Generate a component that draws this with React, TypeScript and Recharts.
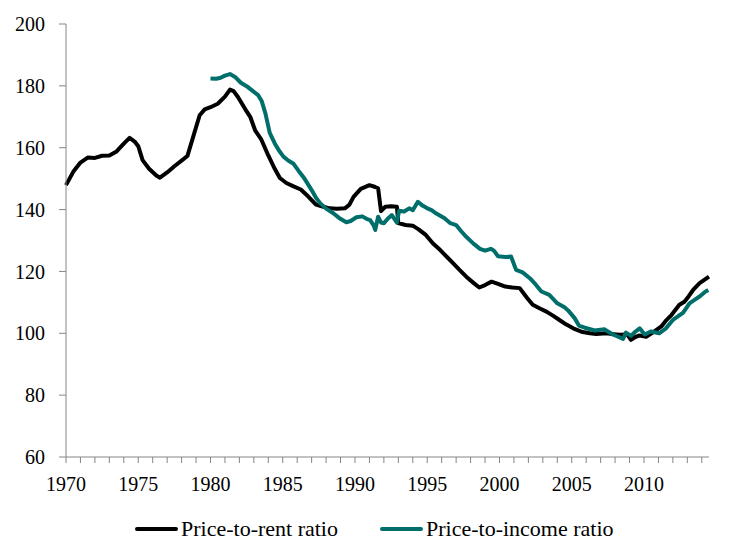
import { LineChart, Line, XAxis, YAxis } from 'recharts'

const rentYears = [
  1970.0, 1970.5, 1971.0, 1971.5, 1972.0, 1972.5, 1973.0, 1973.5, 1974.0, 1974.4, 1974.75, 1975.0,
  1975.3, 1975.75, 1976.25, 1976.5, 1977.0, 1977.5, 1978.0, 1978.4, 1978.8, 1979.25, 1979.6, 1980.0,
  1980.5, 1981.0, 1981.35, 1981.6, 1981.9, 1982.4, 1982.75, 1983.1, 1983.5, 1984.0, 1984.4, 1984.8,
  1985.25, 1985.75, 1986.25, 1986.75, 1987.3, 1987.75, 1988.25, 1988.75, 1989.3, 1989.6, 1989.9, 1990.4,
  1991.0, 1991.4, 1991.6, 1991.8, 1992.1, 1992.5, 1992.9, 1993.0, 1993.5, 1994.0, 1994.4, 1994.9,
  1995.4, 1995.9, 1996.4, 1996.8, 1997.25, 1997.7, 1998.2, 1998.6, 1999.0, 1999.45, 1999.9, 2000.4,
  2000.9, 2001.4, 2001.9, 2002.3, 2002.8, 2003.25, 2003.7, 2004.15, 2004.6, 2005.1, 2005.75, 2006.25,
  2006.7, 2007.4, 2007.9, 2008.3, 2008.85, 2009.1, 2009.4, 2009.7, 2010.15, 2010.6, 2011.2, 2011.5,
  2011.9, 2012.45, 2012.8, 2013.1, 2013.4, 2013.85, 2014.1, 2014.5,
]
const rentValues = [
  147.9, 152.2, 155.2, 156.8, 156.7, 157.4, 157.5, 158.8, 161.3, 163.2, 162.0, 160.5,
  156.0, 153.2, 151.0, 150.3, 152.0, 154.0, 155.8, 157.3, 163.5, 170.5, 172.4, 173.1,
  174.2, 176.5, 178.8, 178.3, 176.4, 172.5, 170.0, 165.5, 162.8, 157.5, 153.6, 150.2,
  148.6, 147.5, 146.5, 144.3, 141.6, 141.0, 140.4, 140.3, 140.4, 141.5, 144.1, 146.7,
  147.9, 147.3, 146.9, 139.5, 140.9, 141.1, 140.9, 135.6, 135.0, 134.8, 133.6, 131.8,
  129.0, 126.9, 124.5, 122.6, 120.4, 118.3, 116.3, 114.8, 115.6, 116.7, 116.0, 115.1,
  114.8, 114.6, 111.5, 109.2, 108.0, 107.0, 105.7, 104.3, 102.9, 101.6, 100.4, 100.0,
  99.8, 100.0, 99.7, 99.5, 99.6, 97.9, 98.8, 99.3, 98.9, 100.2, 102.2, 104.0,
  105.9, 109.2, 110.2, 112.0, 114.0, 116.2, 117.0, 118.3,
]

const incomeYears = [
  1980.0, 1980.4, 1980.7, 1981.0, 1981.35, 1981.7, 1982.1, 1982.5, 1982.85, 1983.3, 1983.55, 1983.8,
  1984.1, 1984.45, 1984.75, 1985.05, 1985.4, 1985.75, 1986.1, 1986.45, 1987.0, 1987.3, 1987.6, 1988.0,
  1988.5, 1988.9, 1989.4, 1989.7, 1990.1, 1990.5, 1990.8, 1991.05, 1991.3, 1991.4, 1991.6, 1991.8,
  1992.0, 1992.3, 1992.55, 1992.75, 1992.9, 1993.05, 1993.4, 1993.75, 1994.0, 1994.35, 1994.7, 1995.0,
  1995.3, 1995.6, 1996.2, 1996.6, 1997.0, 1997.35, 1997.7, 1998.2, 1998.65, 1999.0, 1999.4, 1999.6,
  1999.9, 2000.4, 2000.8, 2001.15, 2001.6, 2002.1, 2002.5, 2002.9, 2003.45, 2004.0, 2004.5, 2004.75,
  2005.2, 2005.5, 2005.9, 2006.6, 2007.25, 2007.85, 2008.25, 2008.55, 2008.75, 2009.1, 2009.4, 2009.7,
  2010.05, 2010.5, 2011.05, 2011.5, 2012.0, 2012.35, 2012.7, 2013.15, 2013.5, 2013.85, 2014.2, 2014.45,
]
const incomeValues = [
  182.4, 182.3, 182.6, 183.3, 183.8, 182.9, 181.0, 179.9, 178.6, 177.0, 175.0, 171.1,
  164.8, 161.4, 159.0, 157.1, 155.8, 154.8, 152.5, 150.4, 146.3, 143.8, 142.0, 140.3,
  138.8, 137.3, 135.9, 136.3, 137.5, 137.8, 137.0, 136.6, 134.8, 133.4, 137.7, 135.8,
  135.6, 137.2, 138.2, 136.8, 135.8, 139.6, 139.4, 140.4, 139.8, 142.5, 141.2, 140.4,
  139.8, 138.8, 137.2, 135.6, 135.0, 133.0, 131.2, 129.0, 127.3, 126.7, 127.3, 126.8,
  124.9, 124.7, 124.8, 120.5, 119.7, 117.8, 115.8, 113.5, 112.4, 109.7, 108.4, 107.4,
  104.9, 102.5, 101.8, 100.9, 101.3, 99.6, 98.8, 98.2, 100.2, 99.2, 100.5, 101.6,
  99.6, 100.6, 100.0, 101.5, 104.3, 105.5, 106.6, 109.7, 110.8, 111.9, 113.3, 114.0,
]

const yearTicks = Array.from({ length: 45 }, (_, i) => 1970 + i)
const valueTicks = [60, 80, 100, 120, 140, 160, 180, 200]

const rentData = rentYears.map((year, i) => ({ year, value: rentValues[i] }))
const incomeData = incomeYears.map((year, i) => ({ year, value: incomeValues[i] }))

const FONT = '"Liberation Serif", "DejaVu Serif", serif'
const AXIS = '#868686'
const TEAL = '#006e6a'

function LegendItem({ color, label, left }: { color: string; label: string; left: number }) {
  return (
    <div style={{ position: 'absolute', left, top: 516, display: 'flex', alignItems: 'center' }}>
      <div style={{ width: 43, height: 4, borderRadius: 2, background: color, marginRight: 3 }} />
      <span style={{ fontSize: 22, color: '#000', fontFamily: FONT }}>{label}</span>
    </div>
  )
}

export default function App() {
  return (
    <div style={{ position: 'absolute', left: 0, top: 0, width: 750, height: 560, background: '#fff' }}>
      <LineChart
        width={750}
        height={560}
        margin={{ top: 24, right: 41, left: 0, bottom: 73 }}
        style={{ fontFamily: FONT }}
      >
        <XAxis
          dataKey="year"
          type="number"
          domain={[1970, 2014.5]}
          ticks={yearTicks}
          interval={0}
          tickFormatter={(v) => (v % 5 === 0 ? String(v) : '')}
          tick={{ fontSize: 20, fill: '#000' }}
          tickSize={6}
          tickMargin={14}
          stroke={AXIS}
          height={30}
          allowDuplicatedCategory={false}
        />
        <YAxis
          type="number"
          domain={[60, 200]}
          ticks={valueTicks}
          interval={0}
          tick={{ fontSize: 20, fill: '#000' }}
          tickSize={7}
          tickMargin={14}
          stroke={AXIS}
          width={66}
        />
        <Line
          data={rentData}
          dataKey="value"
          type="linear"
          stroke="#000"
          strokeWidth={4}
          dot={false}
          strokeLinejoin="round"
          isAnimationActive={false}
        />
        <Line
          data={incomeData}
          dataKey="value"
          type="linear"
          stroke={TEAL}
          strokeWidth={4}
          dot={false}
          strokeLinejoin="round"
          isAnimationActive={false}
        />
      </LineChart>
      <LegendItem color="#000" label="Price-to-rent ratio" left={135} />
      <LegendItem color={TEAL} label="Price-to-income ratio" left={380} />
    </div>
  )
}
